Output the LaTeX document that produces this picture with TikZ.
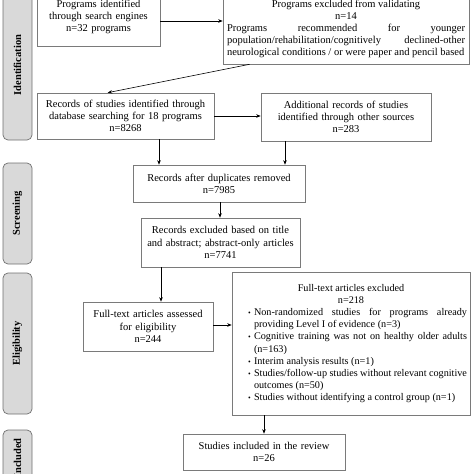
\documentclass[tikz,border=0pt]{standalone}
\usepackage{fontspec}
\setmainfont{Liberation Serif}
\usetikzlibrary{arrows.meta}
\definecolor{boxline}{HTML}{7A7A7A}
\definecolor{sidefill}{HTML}{D9D9D9}
\definecolor{sideline}{HTML}{707070}
\newcommand{\bitem}[1]{\par{\leftskip=19pt\noindent\hspace*{-6pt}\makebox[6pt][l]{\scalebox{0.75}{\textbullet}}#1\par}}
\tikzset{
  boxnode/.style={draw=boxline, line width=0.6pt, fill=white, align=center, inner sep=3pt,
    font=\fontsize{10.5}{12.2}\selectfont},
  sidebox/.style={draw=sideline, line width=0.7pt, fill=sidefill, rounded corners=5pt},
  sidetext/.style={rotate=90, font=\fontsize{10.5}{12}\selectfont\bfseries},
  arr/.style={-{Stealth[length=4.5pt,width=3.5pt]}, line width=0.6pt, black}
}
\begin{document}
\begin{tikzpicture}[x=1pt,y=-1pt]
\useasboundingbox (0,0) rectangle (474,474);
% side labels
\node[sidebox, minimum width=29pt, minimum height=150pt] (sid) at (17.5,65) {};
\node[sidetext] (sidt) at (sid.center) {Identification};
\node[sidebox, minimum width=29pt, minimum height=101pt] (sscr) at (17.5,213.5) {};
\node[sidetext] (sscrt) at (sscr.center) {Screening};
\node[sidebox, minimum width=29pt, minimum height=141pt] (selg) at (17.5,343.5) {};
\node[sidetext] (selgt) at (selg.center) {Eligibility};
\node[sidebox, minimum width=29pt, minimum height=100pt] (sinc) at (17.5,480) {};
\node[sidetext] (sinct) at (17.5,458) {Included};
% boxes
\node[boxnode, minimum width=123pt, minimum height=58pt, text width=117pt] (b1) at (98.5,17)
  {Programs identified\\ through search engines\\ n=32 programs};
\node[boxnode, minimum width=246pt, minimum height=70pt, text width=238pt, align=justify] (b2) at (346,29)
  {{\centering Programs excluded from validating\\ n=14\par}
   Programs recommended for younger\linebreak
   population/rehabilitation/cognitively declined-other\linebreak
   neurological conditions / or were paper and pencil based};
\node[boxnode, minimum width=177pt, minimum height=46pt, text width=171pt] (b3) at (125.5,116)
  {Records of studies identified through\\ database searching for 18 programs\\ n=8268};
\node[boxnode, minimum width=170pt, minimum height=48pt, text width=164pt] (b4) at (346,117)
  {Additional records of studies\\ identified through other sources\\ n=283};
\node[boxnode, minimum width=172pt, minimum height=37pt, text width=166pt] (b5) at (219,183.5)
  {Records after duplicates removed\\ n=7985};
\node[boxnode, minimum width=159pt, minimum height=49pt, text width=153pt] (b6) at (220.5,242.5)
  {Records excluded based on title\\ and abstract; abstract-only articles\\ n=7741};
\node[boxnode, minimum width=130pt, minimum height=49pt, text width=124pt] (b7) at (148,326.5)
  {Full-text articles assessed\\ for eligibility\\ n=244};
\node[boxnode, minimum width=238pt, minimum height=143pt, text width=232pt, align=justify,
  font=\fontsize{10.2}{12.2}\selectfont] (b8) at (351,343.5)
  {{\centering Full-text articles excluded\\ n=218\par}
   \bitem{Non-randomized studies for programs already\linebreak providing Level I of evidence (n=3)}
   \bitem{Cognitive training was not on healthy older adults\linebreak (n=163)}
   \bitem{Interim analysis results (n=1)}
   \bitem{Studies/follow-up studies without relevant cognitive\linebreak outcomes (n=50)}
   \bitem{Studies without identifying a control group (n=1)}};
\node[boxnode, minimum width=162pt, minimum height=36pt, text width=156pt] (b9) at (264,452)
  {Studies included in the review\\ n=26};
% arrows
\draw[arr] ([yshift=-4pt]b1.east) -- ([yshift=-4pt]b1.east -| b2.west);
\draw[arr] ([xshift=27pt]b2.south west) -- ([xshift=71pt]b3.north west);
\draw[arr] (b3.east) -- (b3.east -| b4.west);
\draw[arr] ([xshift=33.5pt]b3.south) -- ([xshift=33.5pt]b3.south |- b5.north);
\draw[arr] ([xshift=-61pt]b4.south) -- ([xshift=-61pt]b4.south |- b5.north);
\draw[arr] ([xshift=1pt]b5.south) -- ([xshift=1pt]b5.south |- b6.north);
\draw[arr] ([xshift=-59.5pt]b6.south) -- ([xshift=-59.5pt]b6.south |- b7.north);
\draw[arr] ([yshift=1.5pt]b7.east) -- ([yshift=1.5pt]b7.east -| b8.west);
\draw[arr] (b9.north |- b8.south) -- (b9.north);
\end{tikzpicture}
\end{document}
